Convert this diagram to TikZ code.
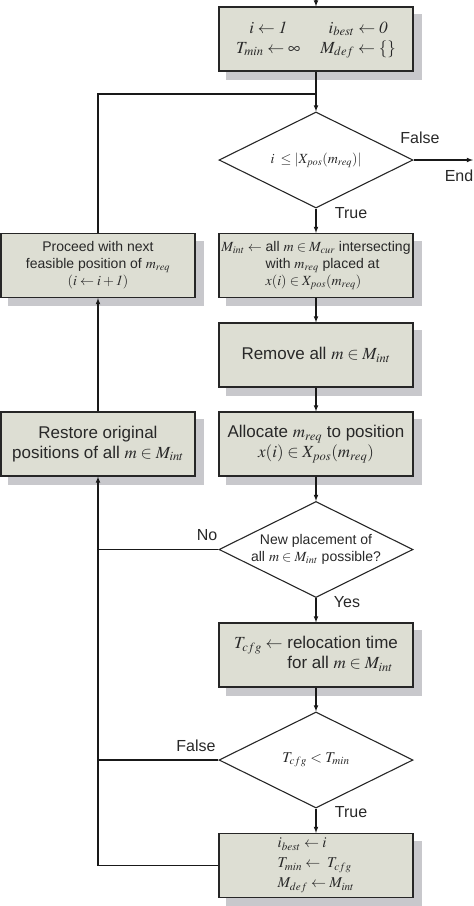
\documentclass[tikz,border=0pt]{standalone}
\usepackage{mathptmx}
\usepackage[no-math]{fontspec}
\setmainfont{Liberation Sans}
\usepackage{tikz}
\usetikzlibrary{shapes.geometric, arrows}
\definecolor{boxfill}{RGB}{221,222,211}
\definecolor{shadowgray}{RGB}{200,200,204}
\definecolor{inkgray}{RGB}{40,40,40}
\newcommand{\bigtext}{\fontsize{17}{20}\selectfont}
\newcommand{\smalltext}{\fontsize{14}{17}\selectfont}
\pgfdeclarelayer{shadowlayer}
\pgfsetlayers{shadowlayer,main}

\begin{document}
\begin{tikzpicture}[x=1pt, y=-1pt, >=latex, text=inkgray,
  box/.style={draw=black!85, line width=1.1pt, fill=boxfill, minimum width=194pt, minimum height=64pt, inner sep=2pt, align=center, font=\bigtext},
  decision/.style={draw=black!85, line width=1.1pt, diamond, shape aspect=2, minimum width=194pt, minimum height=96pt, inner sep=-4pt, align=center, font=\smalltext},
  link/.style={draw=black!90, line width=1.1pt},
  lbl/.style={font=\fontsize{16}{18}\selectfont}]
\useasboundingbox (0,0) rectangle (474,906);
\coordinate (start) at (316,0);
\coordinate (merge) at (316,94);
\coordinate (loop) at (98,94);
\coordinate (endpt) at (473,160);

% right column
\node[box](init) at (316,39) {\begin{tabular}{@{}c@{\hspace{20pt}}c@{}}
  $i\leftarrow\mathit{1}$ & $i_{best}\leftarrow\mathit{0}$\\
  $T_{min}\leftarrow\infty$ & $M_{def}\leftarrow\{\}$
  \end{tabular}};
\node[decision](d1) at (316,160) {$i\;\leq|X_{pos}(m_{req})|$};
\node[box, font=\smalltext, align=left](inter) at (316,265.5) {$M_{int}\leftarrow$ all $m\in M_{cur}$ intersecting\\
  \phantom{$M_{int}\leftarrow$ }with $m_{req}$ placed at\\
  \phantom{$M_{int}\leftarrow$ }$x(i)\in X_{pos}(m_{req})$};
\node[box](remove) at (316,355) {Remove all $m\in M_{int}$};
\node[box](alloc) at (316,444) {Allocate $m_{req}$ to position\\ $x(i)\in X_{pos}(m_{req})$};
\node[decision](d2) at (316,549.5) {New placement of\\ all $m\in M_{int}$ possible?};
\node[box, align=left](reloc) at (316,655) {$T_{cfg}\leftarrow$ relocation time\\
  \phantom{$T_{cfg}\leftarrow$ }for all $m\in M_{int}$};
\node[decision, font=\fontsize{15}{18}\selectfont](d3) at (316,760) {$T_{cfg}<T_{min}$};
\node[box, align=left, font=\fontsize{15}{20}\selectfont](best) at (316,865.5) {$i_{best}\leftarrow i$\\
  $T_{min}\leftarrow\;T_{cfg}$\\ $M_{def}\leftarrow M_{int}$};

% left column
\node[box, font=\smalltext](proceed) at (98,265.5) {Proceed with next\\ feasible position of $m_{req}$\\ $(i\leftarrow i+\mathit{1})$};
\node[box](restore) at (98,444) {Restore original\\ positions of all $m\in M_{int}$};

% box shadows
\begin{pgfonlayer}{shadowlayer}
\foreach \b in {init,inter,remove,alloc,reloc,best,proceed,restore}
  \fill[shadowgray] ([xshift=8pt,yshift=-8pt]\b.south west) rectangle ([xshift=8pt,yshift=-8pt]\b.north east);
\end{pgfonlayer}

% labels
\node[lbl](false1) at (420,138) {False};
\node[lbl](endlbl) at (459,176) {End};
\node[lbl](true1) at (351,213) {True};
\node[lbl](no2) at (207,535) {No};
\node[lbl](yes2) at (347,602) {Yes};
\node[lbl](false3) at (196,746) {False};
\node[lbl](true3) at (351,812) {True};

% connectors
\draw[link,->] (start) -- (init);
\draw[link,->] (init) -- (d1);
\draw[link] (proceed) -- (loop) -- (merge);
\draw[link,->] (d1) -- (endpt);
\draw[link,->] (d1) -- (inter);
\draw[link,->] (inter) -- (remove);
\draw[link,->] (remove) -- (alloc);
\draw[link,->] (alloc) -- (d2);
\draw[link,->] (d2) -- (reloc);
\draw[link,->] (reloc) -- (d3);
\draw[link,->] (d3) -- (best);
\draw[link] (d2.west) -- (d2.west -| restore.south);
\draw[link] (d3.west) -- (d3.west -| restore.south);
\draw[link,->] (best.west) -| (restore.south);
\draw[link,->] (restore) -- (proceed);
\end{tikzpicture}
\end{document}
